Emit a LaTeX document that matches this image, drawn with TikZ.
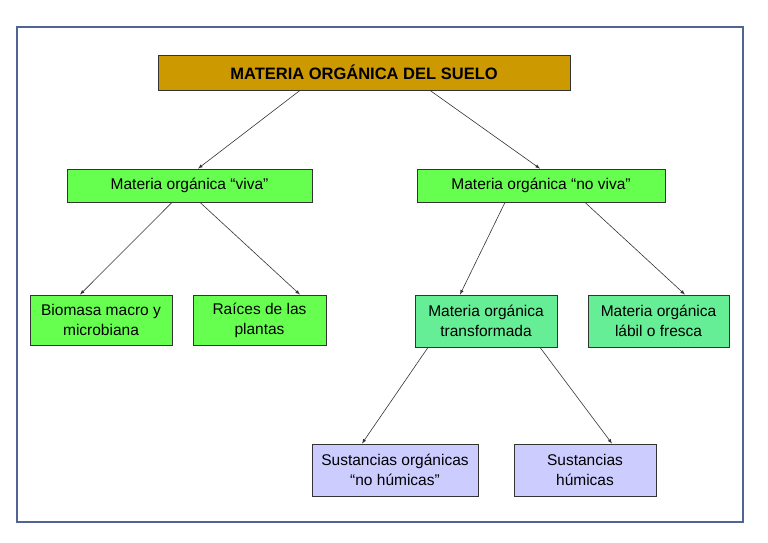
\documentclass[tikz,border=0pt]{standalone}
\usepackage{fontspec}
\setmainfont{Liberation Sans}
\begin{document}
\begin{tikzpicture}[x=1pt,y=-1pt,
 box/.style={draw=black!80,line width=0.8pt,inner sep=0pt,align=center,font=\fontsize{15.5}{20}\selectfont},
 arr/.style={-latex,line width=0.6pt,draw=black!80}]
\useasboundingbox (0,0) rectangle (768,543);
\draw[line width=2pt,draw={rgb,255:red,80;green,100;blue,150}] (17,27) rectangle (743,522);
\node[box,fill={rgb,255:red,204;green,153;blue,0},minimum width=412,minimum height=35,font=\bfseries\fontsize{16.5}{20}\selectfont] (top) at (364,72.5) {MATERIA ORGÁNICA DEL SUELO};
\node[box,fill={rgb,255:red,102;green,255;blue,80},minimum width=245,minimum height=33] (viva) at (189.5,185.5) {Materia orgánica “viva”};
\node[box,fill={rgb,255:red,102;green,255;blue,80},minimum width=248,minimum height=33] (noviva) at (541,185.5) {Materia orgánica “no viva”};
\node[box,fill={rgb,255:red,102;green,255;blue,80},minimum width=142,minimum height=50] (bio) at (101,320) {Biomasa macro y\\microbiana};
\node[box,fill={rgb,255:red,102;green,255;blue,80},minimum width=133,minimum height=50] (rai) at (259.5,320) {Raíces de las\\plantas};
\node[box,fill={rgb,255:red,102;green,238;blue,150},minimum width=142,minimum height=52] (tra) at (486,321) {Materia orgánica\\transformada};
\node[box,fill={rgb,255:red,102;green,238;blue,150},minimum width=141,minimum height=52] (lab) at (658.5,321) {Materia orgánica\\lábil o fresca};
\node[box,fill={rgb,255:red,204;green,204;blue,255},minimum width=166,minimum height=52] (sno) at (395,470) {Sustancias orgánicas\\“no húmicas”};
\node[box,fill={rgb,255:red,204;green,204;blue,255},minimum width=142,minimum height=52] (shu) at (585,470) {Sustancias\\húmicas};
\draw[arr] (top.south -| 300,0) -- (viva.north -| 198,0);
\draw[arr] (top.south -| 430,0) -- (noviva.north -| 540,0);
\draw[arr] (viva.south -| 172,0) -- (bio.north -| 80,0);
\draw[arr] (viva.south -| 200,0) -- (rai.north -| 300,0);
\draw[arr] (noviva.south -| 505,0) -- (tra.north -| 460,0);
\draw[arr] (noviva.south -| 585,0) -- (lab.north -| 685,0);
\draw[arr] (tra.south -| 428,0) -- (sno.north -| 362,0);
\draw[arr] (tra.south -| 540,0) -- (shu.north -| 612,0);
\end{tikzpicture}
\end{document}
